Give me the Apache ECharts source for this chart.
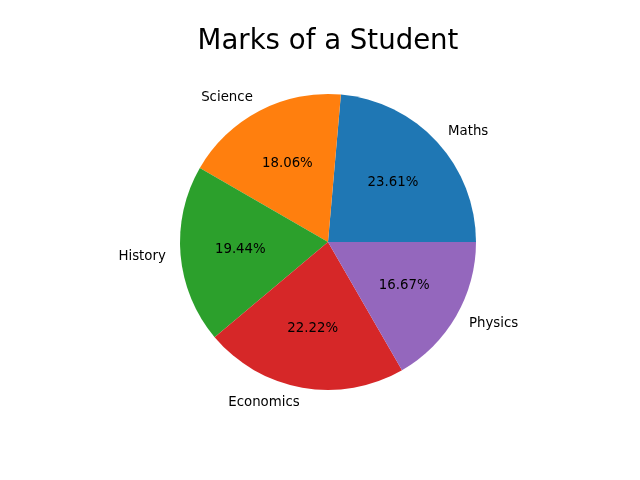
<!DOCTYPE html>
<html>
<head>
<meta charset="utf-8">
<script src="https://cdn.jsdelivr.net/npm/echarts@6/dist/echarts.min.js"></script>
<style>html,body{margin:0;padding:0;background:#fff;}#c{width:640px;height:480px;}</style>
</head>
<body>
<div id="c"></div>
<script>
const subjects = ['Maths', 'Science', 'History', 'Economics', 'Physics'];
const marks = [85, 65, 70, 80, 60];
const colors = ['#1f77b4', '#ff7f0e', '#2ca02c', '#d62728', '#9467bd'];
const titleText = 'Marks of a Student';

const total = marks.reduce((a, b) => a + b, 0);
const R = 148;
const data = subjects.map((s, i) => ({ name: s, value: marks[i], itemStyle: { color: colors[i] } }));
const font = 'DejaVu Sans';

const chart = echarts.init(document.getElementById('c'), null, { renderer: 'canvas' });
chart.setOption({
  animation: false,
  backgroundColor: '#ffffff',
  title: {
    text: titleText,
    left: 323,
    textAlign: 'center',
    top: 23,
    textStyle: { fontFamily: font, fontSize: 27.6, fontWeight: 'normal', color: '#000' }
  },
  series: [
    {
      type: 'pie',
      center: [328, 242],
      radius: [0, R],
      startAngle: 0,
      clockwise: false,
      avoidLabelOverlap: false,
      silent: true,
      data: data,
      label: {
        show: true,
        position: 'outside',
        formatter: '{b}',
        fontFamily: font,
        fontSize: 13.33,
        color: '#000',
        distanceToLabelLine: 0
      },
      labelLine: { show: false, length: R * 0.1, length2: 0 },
      emphasis: { disabled: true }
    },
    {
      type: 'pie',
      center: [328, 242],
      radius: [22, R],
      startAngle: 0,
      clockwise: false,
      avoidLabelOverlap: false,
      silent: true,
      data: subjects.map((s, i) => ({ name: s, value: marks[i], itemStyle: { color: 'rgba(0,0,0,0)' } })),
      label: {
        show: true,
        position: 'inside',
        formatter: p => (p.value / total * 100).toFixed(2) + '%',
        fontFamily: font,
        fontSize: 13.33,
        color: '#000'
      },
      labelLine: { show: false },
      emphasis: { disabled: true }
    }
  ]
});
</script>
</body>
</html>
